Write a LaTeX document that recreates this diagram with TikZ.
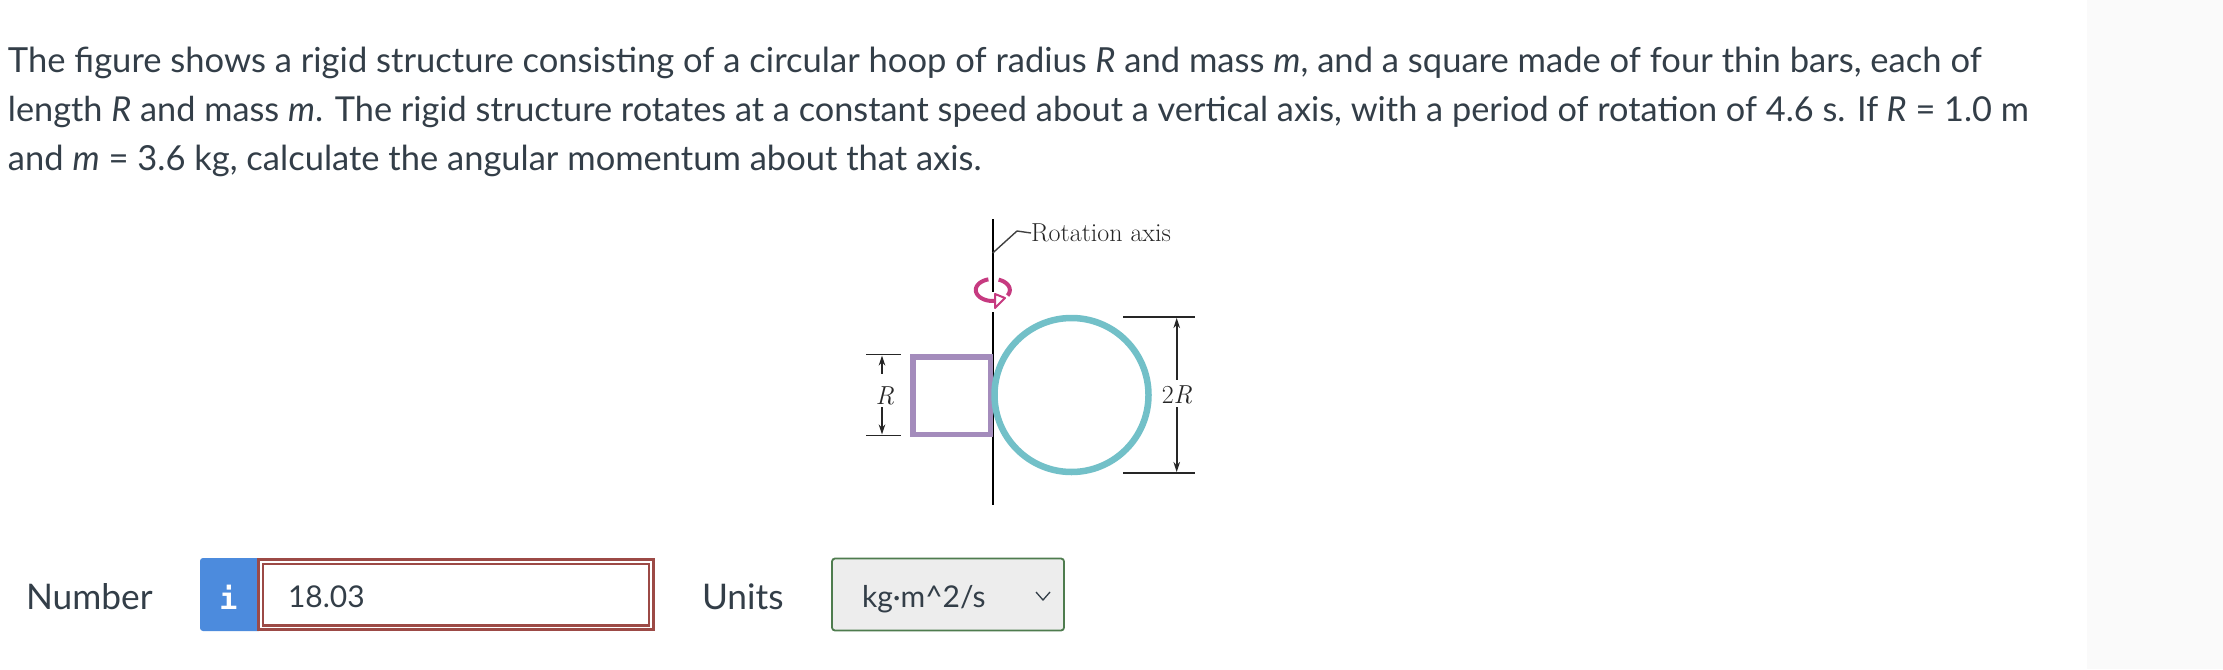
\documentclass[tikz,border=0pt]{standalone}
\usepackage{fontspec}
\setmainfont{Lato}
\newfontfamily\figfont{Latin Modern Roman}
\newfontfamily\iconfont{DejaVu Sans Mono}
\usetikzlibrary{arrows.meta}
\definecolor{ink}{HTML}{333E48}
\definecolor{hoop}{HTML}{72C0C8}
\definecolor{sq}{HTML}{A48CBC}
\definecolor{spin}{HTML}{C63A80}
\definecolor{redb}{HTML}{9C4A46}
\definecolor{greenb}{HTML}{4E7C4E}
\definecolor{blueb}{HTML}{4C8BDD}
\tikzset{
  line/.style={anchor=base west,inner sep=0pt,outer sep=0pt,text=ink,font=\fontsize{34.4}{40}\selectfont},
  ui/.style={anchor=base west,inner sep=0pt,outer sep=0pt,text=ink,font=\fontsize{35.3}{40}\selectfont},
  uival/.style={anchor=base west,inner sep=0pt,outer sep=0pt,text=ink,font=\fontsize{30}{36}\selectfont},
  figlabel/.style={inner sep=0pt,outer sep=0pt,text=black!85,font=\figfont\fontsize{26}{30}\selectfont},
  dimline/.style={draw=black!85,line width=1.8pt},
  dimhead/.style={draw=black!85,line width=1.6pt,{Stealth[length=10pt,width=6.5pt]}-},
}
\begin{document}
\begin{tikzpicture}[x=1pt,y=-1pt]
\useasboundingbox (0,0) rectangle (2223,669);
\fill[white] (0,0) rectangle (2223,669);
\fill[black!2] (2087,0) rectangle (2223,669);
% question text
\node[line,font=\fontsize{34.55}{40}\selectfont] (l1) at (8,72) {The figure shows a rigid structure consisting of a circular hoop of radius \textit{R} and mass \textit{m}, and a square made of four thin bars, each of};
\node[line,font=\fontsize{34.3}{40}\selectfont] (l2) at (8,121) {length \textit{R} and mass \textit{m}. The rigid structure rotates at a constant speed about a vertical axis, with a period of rotation of 4.6 s. If \textit{R} = 1.0 m};
\node[line,font=\fontsize{34.5}{40}\selectfont] (l3) at (8,170) {and \textit{m} = 3.6 kg, calculate the angular momentum about that axis.};
% figure
\coordinate (axT) at (992.7,219);
\coordinate (axB) at (992.7,505);
\draw[black,line width=1.8pt] (axT) -- (axB);
\draw[draw=sq,line width=5.5pt] (913,357) rectangle (990.5,434.5);
\draw[draw=hoop,line width=6.5pt] (1071.5,395) circle[radius=77];
% spin arrow
\draw[draw=white,line width=7pt] (992.7,292) -- (992.7,312);
\draw[draw=spin,line width=4pt] plot[smooth,domain=-105:-285,samples=40] ({992.8+17*cos(\x)},{290+11*sin(\x)});
\draw[draw=spin,line width=4pt] plot[smooth,domain=-70:30,samples=20] ({992.8+17*cos(\x)},{290+11*sin(\x)});
\draw[draw=spin,line width=2pt,fill=white,line join=round] (995,294) -- (1005,298) -- (995,308) -- cycle;
% rotation axis label
\node[figlabel,anchor=west] (rot) at (1031,233) {Rotation axis};
\coordinate (lead) at (992.7,253);
\draw[black!75,line width=1.4pt] (lead) -- (1017,231) -- (rot.west);
% R
\coordinate (ra) at (866,354.5); \coordinate (rb) at (901,354.5);
\coordinate (rc) at (866,435.5); \coordinate (rd) at (901,435.5);
\draw[dimline] (ra) -- (rb);
\draw[dimline] (rc) -- (rd);
\coordinate (rt) at (882,355.5); \coordinate (rbm) at (882,434.5);
\node[figlabel,font=\figfont\itshape\fontsize{26}{30}\selectfont] (rl) at (885,396) {R};
\draw[dimhead] (rt) -- (882,374);
\draw[dimhead] (rbm) -- (882,407);
% 2R
\coordinate (ta) at (1123,317); \coordinate (tb) at (1195,317);
\coordinate (tc) at (1123,473); \coordinate (td) at (1195,473);
\draw[dimline] (ta) -- (tb);
\draw[dimline] (tc) -- (td);
\node[figlabel] (tl) at (1177,395) {2\textit{R}};
\draw[dimhead] (1176.7,318) -- (1176.7,380);
\draw[dimhead] (1176.7,472) -- (1176.7,407);
% answer row
\node[ui] (num) at (26,609) {Number};
\fill[blueb,rounded corners=3pt] (200,558) rectangle (262,631);
\node[inner sep=0pt,text=white,font=\iconfont\bfseries\fontsize{30}{34}\selectfont] (info) at (228.5,597) {i};
\fill[white] (257,558) rectangle (655,631);
\draw[draw=redb,line width=2.6pt] (258.5,559.5) rectangle (653.5,629.5);
\draw[draw=redb,line width=2.6pt] (263,564) rectangle (649,625.5);
\node[uival] (val) at (288,607) {18.03};
\node[ui] (uni) at (702,609) {Units};
\draw[draw=greenb,line width=1.8pt,fill=black!7,rounded corners=3pt] (832,558.5) rectangle (1064,630.5);
\node[uival] (sel) at (862,607) {kg·m\textasciicircum 2/s};
\draw[draw=ink,line width=1.3pt] (1036,592) -- (1043,600) -- (1050,592);
\end{tikzpicture}
\end{document}
